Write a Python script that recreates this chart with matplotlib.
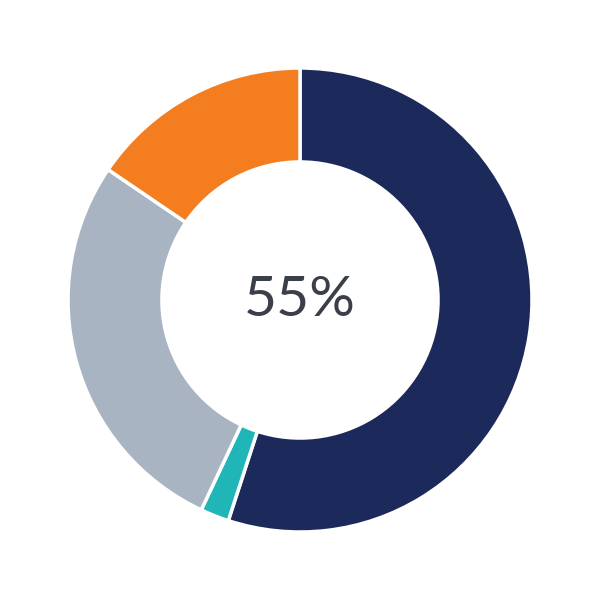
import matplotlib
matplotlib.use("Agg")
import matplotlib.pyplot as plt

labels = ["A", "B", "C", "D"]
values = [55, 2, 27.5, 15.5]
colors = ["#1b2a5a", "#20b6b8", "#a9b4c2", "#f47d20"]
center_text = "55%"

fig = plt.figure(figsize=(6, 6), dpi=100)
ax = fig.add_axes([0, 0, 1, 1])
ax.pie(values, colors=colors, startangle=90, counterclock=False, radius=1.0,
       wedgeprops=dict(width=0.405, edgecolor="white", linewidth=2.5))
lim = 300 / 232
ax.set_xlim(-lim, lim)
ax.set_ylim(-lim, lim)
ax.set_aspect("equal")
ax.axis("off")
ax.text(0, 0, center_text, ha="center", va="center", fontsize=41,
        family=["Lato", "DejaVu Sans"], weight="normal", color="#3a3f4a")
fig.savefig("out.png", dpi=100)
